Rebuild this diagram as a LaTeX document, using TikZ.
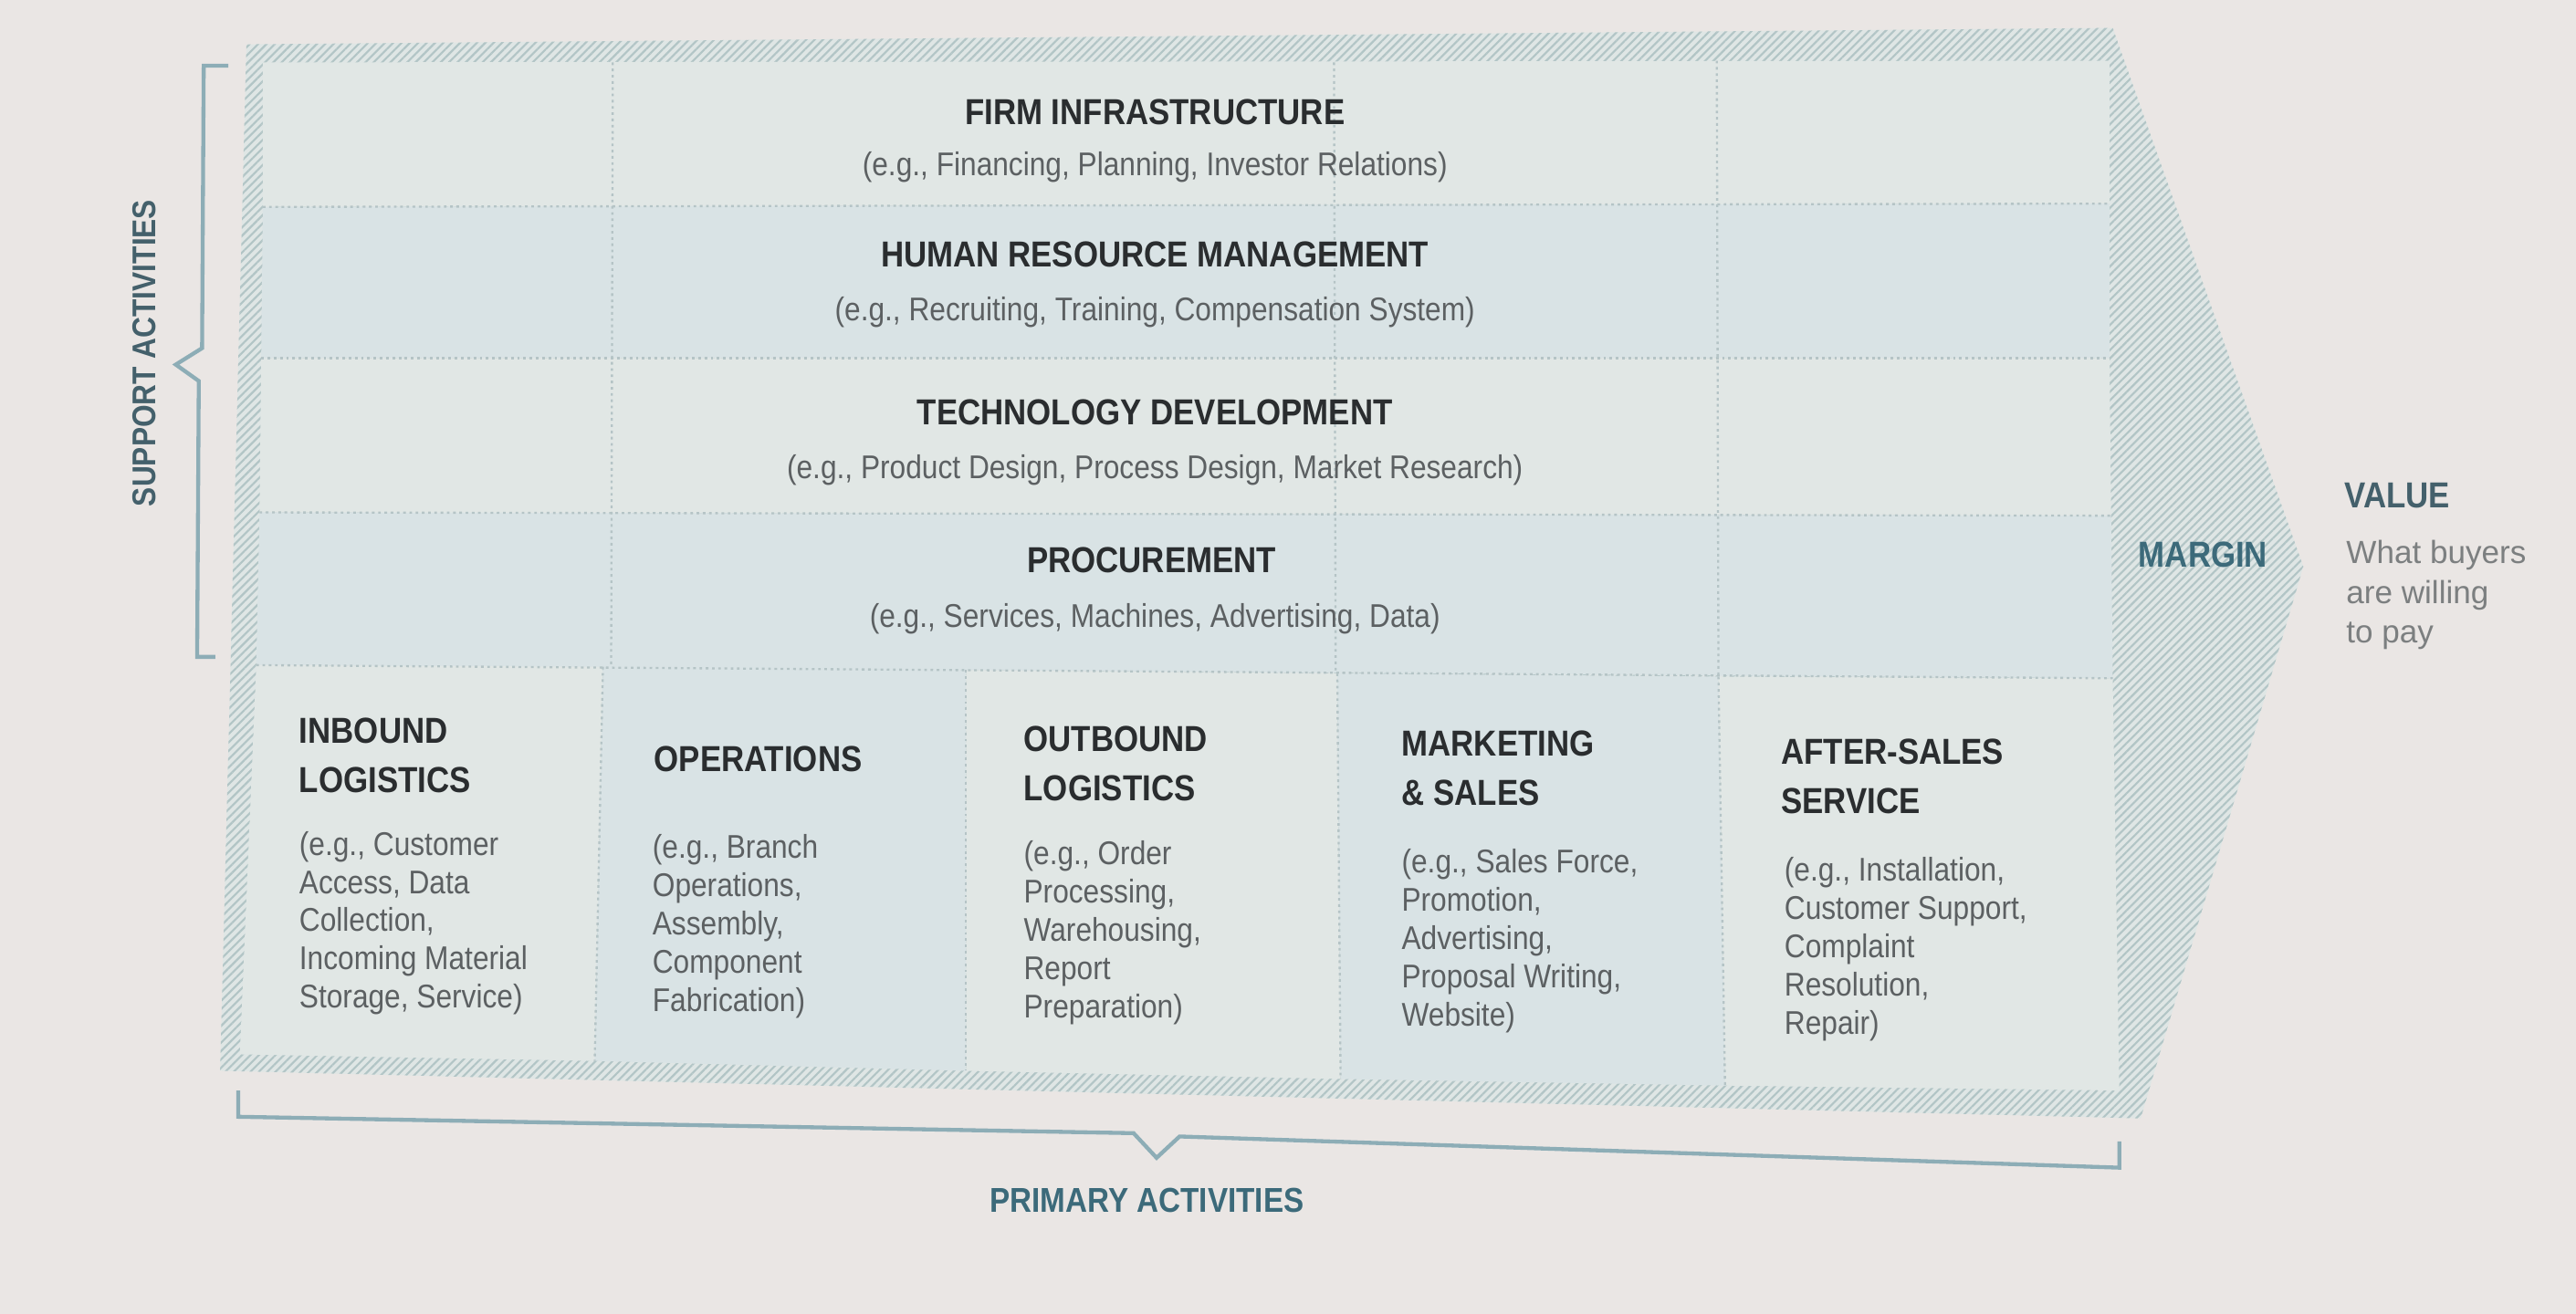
\documentclass[tikz,border=0pt]{standalone}
\usepackage{fontspec}
\setmainfont{Liberation Sans}[FakeStretch=0.88]
\newfontfamily\widefont{Liberation Sans}
\usetikzlibrary{patterns.meta}
\definecolor{bg}{HTML}{EAE6E4}
\definecolor{panelA}{HTML}{E1E7E5}
\definecolor{panelB}{HTML}{D9E3E5}
\definecolor{hatchbg}{HTML}{DFE6E5}
\definecolor{hatchc}{HTML}{B2C5C6}
\definecolor{ink}{HTML}{2A2D2F}
\definecolor{bodyc}{HTML}{5C6062}
\definecolor{tealc}{HTML}{3C6A7A}
\definecolor{tealdark}{HTML}{44606B}
\definecolor{greyc}{HTML}{7C7F80}
\definecolor{bracketc}{HTML}{8DADB6}
\definecolor{sepc}{HTML}{B5C4C6}
\begin{document}
\begin{tikzpicture}[x=1pt,y=-1pt,
  head/.style={font=\bfseries\fontsize{22}{26}\selectfont, text=ink, inner sep=0pt},
  sub/.style={font=\fontsize{20}{23}\selectfont, text=bodyc, inner sep=0pt},
  phead/.style={inner sep=0pt, text=ink, align=left, anchor=north west, font=\bfseries\fontsize{22}{30}\selectfont},
  pbody/.style={inner sep=0pt, text=bodyc, align=left, anchor=north west, font=\fontsize{20}{23.3}\selectfont},
  divider/.style={draw=sepc, line width=1.3pt, dash pattern=on 1.6pt off 2.2pt},
  bracketline/.style={draw=bracketc, line width=2.4pt, line join=miter},
  tealtext/.style={inner sep=0pt, text=tealc, font=\bfseries\fontsize{22}{26}\selectfont}
]
\useasboundingbox (0,0) rectangle (1568,800);
\fill[bg] (0,0) rectangle (1568,800);

% outer hatched arrow shape
\coordinate (o1) at (150,27);
\coordinate (o2) at (1286,17);
\coordinate (otip) at (1402,345);
\coordinate (o3) at (1303,681);
\coordinate (o4) at (134,652);
\fill[hatchbg] (o1) -- (o2) -- (otip) -- (o3) -- (o4) -- cycle;
\fill[pattern={Lines[angle=45,distance=3.6pt,line width=1.2pt]}, pattern color=hatchc]
  (o1) -- (o2) -- (otip) -- (o3) -- (o4) -- cycle;

% inner panel rows (support)
\fill[panelA] (160,38) -- (1284,37) -- (1284,124) -- (160,126) -- cycle;
\fill[panelB] (160,126) -- (1284,124) -- (1284,218) -- (159,218) -- cycle;
\fill[panelA] (159,218) -- (1284,218) -- (1285,314) -- (158,312) -- cycle;
\fill[panelB] (158,312) -- (1285,314) -- (1286,413) -- (156,405) -- cycle;
% primary cells
\fill[panelA] (156,405) -- (367,406) -- (362,646) -- (146,642) -- cycle;
\fill[panelB] (367,406) -- (588,408) -- (588,652) -- (362,646) -- cycle;
\fill[panelA] (588,408) -- (814,410) -- (816,657) -- (588,652) -- cycle;
\fill[panelB] (814,410) -- (1046,412) -- (1050,661) -- (816,657) -- cycle;
\fill[panelA] (1046,412) -- (1286,413) -- (1290,664) -- (1050,661) -- cycle;

% dotted dividers
\draw[divider] (160,126) -- (1284,124);
\draw[divider] (159,218) -- (1284,218);
\draw[divider] (158,312) -- (1285,314);
\draw[divider] (156,405) -- (1286,413);
\draw[divider] (373,38) -- (372,405);
\draw[divider] (812,38) -- (813,410);
\draw[divider] (1045,37) -- (1046,412);
\draw[divider] (367,406) -- (362,646);
\draw[divider] (588,408) -- (588,652);
\draw[divider] (814,410) -- (816,657);
\draw[divider] (1046,412) -- (1050,661);

% support activities
\node[head] (fi) at (703,68) {FIRM INFRASTRUCTURE};
\node[sub] (fisub) at (703,102) {(e.g., Financing, Planning, Investor Relations)};
\node[head] (hrm) at (703,155) {HUMAN RESOURCE MANAGEMENT};
\node[sub] (hrmsub) at (703,190) {(e.g., Recruiting, Training, Compensation System)};
\node[head] (td) at (703,251) {TECHNOLOGY DEVELOPMENT};
\node[sub] (tdsub) at (703,286) {(e.g., Product Design, Process Design, Market Research)};
\node[head] (proc) at (701,341) {PROCUREMENT};
\node[sub] (procsub) at (703,377) {(e.g., Services, Machines, Advertising, Data)};

% primary activities
\node[phead] (inb) at (182,437) {INBOUND\\LOGISTICS};
\node[pbody] (inbsub) at (182,506) {(e.g., Customer\\Access, Data\\Collection,\\Incoming Material\\Storage, Service)};
\node[phead] (ops) at (398,454) {OPERATIONS};
\node[pbody] (opssub) at (397,508) {(e.g., Branch\\Operations,\\Assembly,\\Component\\Fabrication)};
\node[phead] (outb) at (623,442) {OUTBOUND\\LOGISTICS};
\node[pbody] (outbsub) at (623,512) {(e.g., Order\\Processing,\\Warehousing,\\Report\\Preparation)};
\node[phead] (mkt) at (853,445) {MARKETING\\\& SALES};
\node[pbody] (mktsub) at (853,517) {(e.g., Sales Force,\\Promotion,\\Advertising,\\Proposal Writing,\\Website)};
\node[phead] (asv) at (1084,450) {AFTER-SALES\\SERVICE};
\node[pbody] (asvsub) at (1086,522) {(e.g., Installation,\\Customer Support,\\Complaint\\Resolution,\\Repair)};

% margin and value
\node[tealtext] (margin) at (1341,338) {MARGIN};
\node[tealtext, text=tealdark, anchor=west] (value) at (1427,302) {VALUE};
\node[inner sep=0pt, anchor=north west, align=left, text=greyc, font=\widefont\fontsize{19.5}{24}\selectfont] (valsub) at (1428,329) {What buyers\\are willing\\to pay};

% brackets
\draw[bracketline] (139,40) -- (124,40) -- (123,212) -- (107,222) -- (121,232) -- (120,400) -- (131,400);
\draw[bracketline] (145,664) -- (145,680) -- (690,690) -- (704,705) -- (718,692) -- (1290,711) -- (1290,695);
\node[tealtext, text=tealdark, rotate=90, font=\bfseries\fontsize{20}{24}\selectfont] (support) at (88,215) {SUPPORT ACTIVITIES};
\node[tealtext, font=\bfseries\fontsize{21}{24}\selectfont] (primary) at (698,731) {PRIMARY ACTIVITIES};
\end{tikzpicture}
\end{document}
